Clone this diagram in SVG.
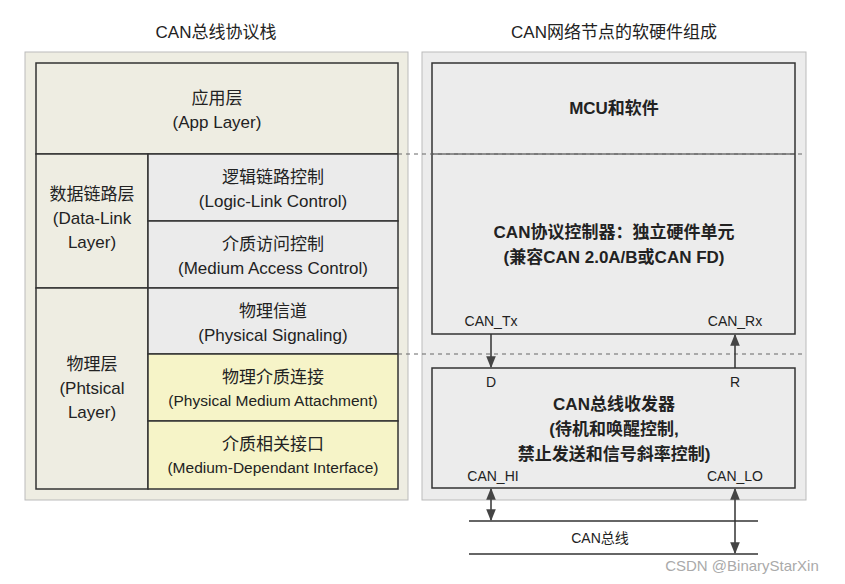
<svg xmlns="http://www.w3.org/2000/svg" width="845" height="584" viewBox="0 0 845 584">
<style>
text{font-family:"Liberation Sans","Noto Sans CJK SC",sans-serif;font-size:17px;fill:#222;text-anchor:middle}
.s{font-size:14px}
.b{stroke:#333;stroke-width:1.5}
.c{stroke:#333;stroke-width:1.5;fill:none}
.d{stroke:#666;stroke-width:1;stroke-dasharray:4 4}
</style>
<defs><marker id="a" viewBox="0 0 10 10" refX="9" refY="5" markerWidth="8" markerHeight="8" orient="auto-start-reverse"><path d="M0,1 L10,5 L0,9 z" fill="#444"/></marker></defs>
<rect width="845" height="584" fill="#fff"/>
<text x="216" y="38">CAN总线协议栈</text>
<text x="614" y="38">CAN网络节点的软硬件组成</text>
<rect x="25" y="52" width="383" height="448" fill="#eeede2" stroke="#bbb"/>
<rect x="422" y="52" width="384" height="448" fill="#ececec" stroke="#bbb"/>
<g id="app"><rect x="36" y="63" width="362" height="91" fill="#eeede2" class="b"/><text x="217" y="104">应用层</text><text x="217" y="128">(App Layer)</text></g>
<g id="dl"><rect x="36" y="154" width="112" height="134" fill="#eeede2" class="b"/><text x="92" y="200">数据链路层</text><text x="92" y="224">(Data-Link</text><text x="92" y="248">Layer)</text></g>
<g id="ph"><rect x="36" y="288" width="112" height="201" fill="#eeede2" class="b"/><text x="92" y="370">物理层</text><text x="92" y="394">(Phtsical</text><text x="92" y="418">Layer)</text></g>
<g id="llc"><rect x="148" y="154" width="250" height="67" fill="#ebebeb" class="b"/><text x="273" y="183">逻辑链路控制</text><text x="273" y="207">(Logic-Link Control)</text></g>
<g id="mac"><rect x="148" y="221" width="250" height="67" fill="#ebebeb" class="b"/><text x="273" y="250">介质访问控制</text><text x="273" y="274">(Medium Access Control)</text></g>
<g id="ps"><rect x="148" y="288" width="250" height="66" fill="#ebebeb" class="b"/><text x="273" y="317">物理信道</text><text x="273" y="341">(Physical Signaling)</text></g>
<g id="pma"><rect x="148" y="354" width="250" height="67" fill="#f6f4c8" class="b"/><text x="273" y="383">物理介质连接</text><text x="273" y="406" style="font-size:15.5px">(Physical Medium Attachment)</text></g>
<g id="mdi"><rect x="148" y="421" width="250" height="68" fill="#f6f4c8" class="b"/><text x="273" y="450">介质相关接口</text><text x="273" y="473" style="font-size:15.5px">(Medium-Dependant Interface)</text></g>
<g id="mcu"><rect x="432" y="63" width="363" height="271" fill="#ececec" class="b"/><line x1="432" y1="154" x2="795" y2="154" stroke="#333" stroke-width="1.2"/><text x="614" y="114" style="font-weight:bold">MCU和软件</text><text x="614" y="238" style="font-weight:bold">CAN协议控制器：独立硬件单元</text><text x="614" y="263" style="font-weight:bold">(兼容CAN 2.0A/B或CAN FD)</text><text class="s" x="491" y="326">CAN_Tx</text><text class="s" x="735" y="326">CAN_Rx</text></g>
<g id="trx"><rect x="432" y="368" width="363" height="120" fill="#ececec" class="b"/><text class="s" x="491" y="387">D</text><text class="s" x="735" y="387">R</text><text x="614" y="410" style="font-weight:bold">CAN总线收发器</text><text x="614" y="435" style="font-weight:bold">(待机和唤醒控制,</text><text x="614" y="460" style="font-weight:bold">禁止发送和信号斜率控制)</text><text class="s" x="493" y="481">CAN_HI</text><text class="s" x="735" y="481">CAN_LO</text></g>
<g id="bus"><line x1="469" y1="521" x2="758" y2="521" class="c"/><line x1="469" y1="554" x2="758" y2="554" class="c"/><text class="s" x="600" y="543">CAN总线</text></g>
<g id="connectors">
<line x1="398" y1="154" x2="806" y2="154" class="d"/>
<line x1="398" y1="354" x2="806" y2="354" class="d"/>
<line x1="491" y1="334" x2="491" y2="367" class="c" marker-end="url(#a)"/>
<line x1="735" y1="368" x2="735" y2="335" class="c" marker-end="url(#a)"/>
<line x1="491" y1="489" x2="491" y2="520" class="c" marker-start="url(#a)" marker-end="url(#a)"/>
<line x1="735" y1="489" x2="735" y2="553" class="c" marker-start="url(#a)" marker-end="url(#a)"/>
</g>
<text x="742" y="571" style="font-size:15px;fill:#aaa">CSDN @BinaryStarXin</text>
</svg>
